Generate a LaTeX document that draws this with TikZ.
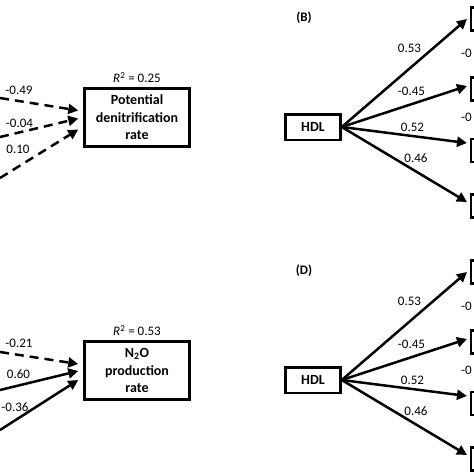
\documentclass[tikz,border=0pt]{standalone}
\usepackage{fontspec}
\setmainfont{Carlito}
\usetikzlibrary{arrows.meta, positioning}

\begin{document}
\begin{tikzpicture}[
  x=1pt, y=-1pt,
  var/.style={rectangle, draw, line width=2.5pt, inner sep=0pt, align=center,
              font=\fontsize{14}{17.5}\selectfont\bfseries},
  bigvar/.style={var, minimum width=105pt, minimum height=58pt},
  smallvar/.style={var, minimum width=55pt, minimum height=25.5pt},
  outvar/.style={var, minimum width=60pt, minimum height=23pt, anchor=west},
  coef/.style={inner sep=0pt, font=\fontsize{13}{15}\selectfont},
  panel/.style={inner sep=0pt, font=\fontsize{13}{15}\selectfont\bfseries},
  arr/.style={-{Triangle[length=10pt,width=10pt]}, line width=2.5pt},
  darr/.style={arr, dash pattern=on 9pt off 6pt},
]
\useasboundingbox (0,0) rectangle (474,474);
\clip (0,0) rectangle (474,474);

% left, top
\node[bigvar] (pdr) at (137,117.5) {Potential\\denitrification\\rate};
\node[coef, above=4pt of pdr] (r2pdr) {\textit{R}\textsuperscript{2} = 0.25};
\coordinate (a1) at (0,98);
\coordinate (a2) at (0,137);
\coordinate (a3) at (0,178);
\draw[darr] (a1) -- ([xshift=-5pt,yshift=7pt]pdr.west);
\draw[darr] (a2) -- ([xshift=-5pt,yshift=-1pt]pdr.west);
\draw[darr] (a3) -- ([xshift=-5pt,yshift=-12pt]pdr.west);
\node[coef] (ka1) at (19,90) {-0.49};
\node[coef] (ka2) at (19.5,123) {-0.04};
\node[coef] (ka3) at (18,149) {0.10};

% left, bottom
\node[bigvar] (n2o) at (137,370.5) {N\textsubscript{2}O\\production\\rate};
\node[coef, above=4pt of n2o] (r2n2o) {\textit{R}\textsuperscript{2} = 0.53};
\coordinate (c1) at (0,352);
\coordinate (c2) at (0,390);
\coordinate (c3) at (0,430);
\draw[darr] (c1) -- ([xshift=-5pt,yshift=6.5pt]n2o.west);
\draw[arr] (c2) -- ([xshift=-5pt,yshift=-0.5pt]n2o.west);
\draw[arr] (c3) -- ([xshift=-5pt,yshift=-9.5pt]n2o.west);
\node[coef] (kc1) at (19,343) {-0.21};
\node[coef] (kc2) at (18.5,374) {0.60};
\node[coef] (kc3) at (15,407) {-0.36};

% right, top
\node[panel] (labB) at (304,17.5) {(B)};
\node[smallvar] (hdlB) at (313,127) {HDL};
\node[outvar] (b1) at (469.5,19) {};
\node[outvar] (b2) at (469.5,89) {};
\node[outvar] (b3) at (469.5,150.5) {};
\node[outvar] (b4) at (469.5,206) {};
\draw[arr] (hdlB.east) -- ([xshift=-2.5pt]b1.west);
\draw[arr] (hdlB.east) -- ([xshift=-2.5pt,yshift=3pt]b2.west);
\draw[arr] (hdlB.east) -- ([xshift=-2.5pt,yshift=7.5pt]b3.west);
\draw[arr] (hdlB.east) -- ([xshift=-2.5pt,yshift=4pt]b4.west);
\node[coef] (kb1) at (409.5,48) {0.53};
\node[coef] (kb2) at (411.5,91) {-0.45};
\node[coef] (kb3) at (412.5,127) {0.52};
\node[coef] (kb4) at (416,158) {0.46};
\node[coef, anchor=west] (kb5) at (461,53) {-0};
\node[coef, anchor=west] (kb6) at (461,117) {-0};

% right, bottom
\begin{scope}[yshift=-253pt]
\node[panel] (labD) at (304,17.5) {(D)};
\node[smallvar] (hdlD) at (313,127) {HDL};
\node[outvar] (d1) at (469.5,19) {};
\node[outvar] (d2) at (469.5,89) {};
\node[outvar] (d3) at (469.5,150.5) {};
\node[outvar] (d4) at (469.5,206) {};
\draw[arr] (hdlD.east) -- ([xshift=-2.5pt]d1.west);
\draw[arr] (hdlD.east) -- ([xshift=-2.5pt,yshift=3pt]d2.west);
\draw[arr] (hdlD.east) -- ([xshift=-2.5pt,yshift=7.5pt]d3.west);
\draw[arr] (hdlD.east) -- ([xshift=-2.5pt,yshift=4pt]d4.west);
\node[coef] (kd1) at (409.5,48) {0.53};
\node[coef] (kd2) at (411.5,91) {-0.45};
\node[coef] (kd3) at (412.5,127) {0.52};
\node[coef] (kd4) at (416,158) {0.46};
\node[coef, anchor=west] (kd5) at (461,53) {-0};
\node[coef, anchor=west] (kd6) at (461,117) {-0};
\end{scope}
\end{tikzpicture}
\end{document}
